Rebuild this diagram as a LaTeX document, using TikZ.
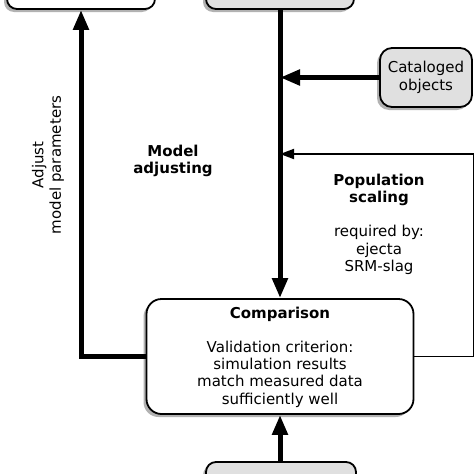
\documentclass[tikz,border=0pt]{standalone}
\usepackage{fontspec}
\setmainfont{DejaVu Sans}
\usetikzlibrary{arrows.meta,shadows}

\begin{document}
\begin{tikzpicture}[x=1pt,y=-1pt,
    box/.style={draw,line width=1.8pt,fill=white,rounded corners=10pt,
        drop shadow={shadow xshift=-3pt,shadow yshift=-3pt,fill=black!30,opacity=1},
        align=center,inner sep=0pt},
    graybox/.style={box,fill=black!12},
    mainarrow/.style={line width=5pt,-{Triangle[length=20pt,width=15pt]}},
    thinarrow/.style={line width=1.8pt,-{Triangle[length=14pt,width=10pt]}},
    every node/.style={font=\fontsize{15}{17.3}\selectfont}]
    \useasboundingbox (0,0) rectangle (474,474);

    % Boxes at the top (cut off)
    \node[box,minimum width=148pt,minimum height=60pt] (adj) at (81,-21) {};
    \node[graybox,minimum width=148pt,minimum height=60pt] (sim) at (280,-21) {};

    % Cataloged objects
    \node[graybox,rounded corners=12pt,minimum width=92pt,minimum height=59pt] (cat) at (426,77.5) {Cataloged\\objects};

    % Comparison
    \node[box,rounded corners=15pt,minimum width=267pt,minimum height=115pt] (cmp) at (280,356.5) {};
    \node[font=\fontsize{15}{17.3}\selectfont\bfseries] (cmpt) at (280,314) {Comparison};
    \node[align=center] (crit) at (280,374) {Validation criterion:\\simulation results\\match measured data\\sufficiently well};

    % Box at the bottom (cut off)
    \node[graybox,minimum width=150pt,minimum height=60pt] (meas) at (281,492) {};

    % Arrows
    \coordinate (catIn) at (sim.south |- cat.west);
    \coordinate (scaleIn) at (sim.south |- 0,154);
    \draw[mainarrow] (sim.south) -- (cmp.north);
    \draw[mainarrow] (cat.west) -- (catIn);
    \draw[mainarrow] (cmp.west) -| (adj.south);
    \draw[mainarrow] (cmp.south |- meas.north) -- (cmp.south);
    \draw[thinarrow] (cmp.east) -- ++(59,0) |- (scaleIn);

    % Labels
    \node[align=center,font=\fontsize{15}{17.3}\selectfont\bfseries] (madj) at (173,161) {Model\\adjusting};
    \node[align=center,font=\fontsize{15}{17.3}\selectfont\bfseries] (pscale) at (379,190) {Population\\scaling};
    \node[align=center] (req) at (379,250) {required by:\\ejecta\\SRM-slag};
    \node[align=center,rotate=90] (par) at (48,165) {Adjust\\model parameters};
\end{tikzpicture}
\end{document}
